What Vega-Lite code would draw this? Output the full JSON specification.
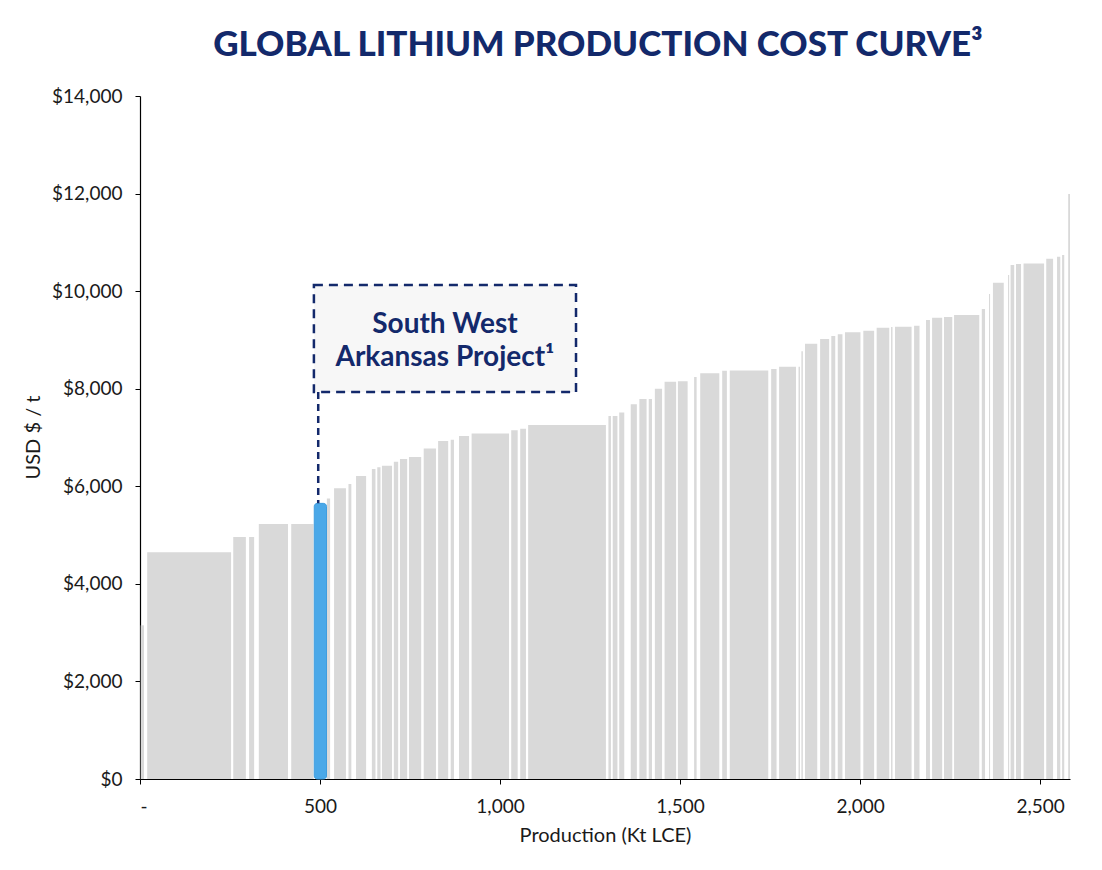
{
  "$schema": "https://vega.github.io/schema/vega-lite/v6.json",
  "autosize": {"type": "none"},
  "width": 930,
  "height": 683,
  "padding": {"left": 140, "top": 96, "right": 32, "bottom": 91},
  "background": "white",
  "title": {
    "text": "GLOBAL LITHIUM PRODUCTION COST CURVE³",
    "font": "Lato",
    "fontSize": 35,
    "fontWeight": 900,
    "color": "#13296b",
    "anchor": "middle",
    "dx": -7,
    "offset": 24
  },
  "config": {
    "view": {"stroke": null},
    "axis": {
      "grid": false,
      "domainColor": "#000000",
      "domainWidth": 1.2,
      "tickColor": "#000000",
      "tickSize": 5,
      "labelFont": "Lato",
      "labelFontSize": 19,
      "labelColor": "#1a1a1a",
      "titleFont": "Lato",
      "titleFontSize": 20,
      "titleFontWeight": "normal",
      "titleColor": "#1a1a1a"
    }
  },
  "datasets": {
    "bars": [
      {"start": 2, "end": 11, "cost": 3150, "project": "Other"},
      {"start": 20, "end": 253, "cost": 4650, "project": "Other"},
      {"start": 259, "end": 294, "cost": 4960, "project": "Other"},
      {"start": 303, "end": 317, "cost": 4960, "project": "Other"},
      {"start": 330, "end": 411, "cost": 5225, "project": "Other"},
      {"start": 420, "end": 482, "cost": 5225, "project": "Other"},
      {"start": 484, "end": 518, "cost": 5650, "project": "South West Arkansas"},
      {"start": 519, "end": 528, "cost": 5750, "project": "Other"},
      {"start": 539, "end": 572, "cost": 5960, "project": "Other"},
      {"start": 579, "end": 587, "cost": 6045, "project": "Other"},
      {"start": 600, "end": 628, "cost": 6210, "project": "Other"},
      {"start": 644, "end": 654, "cost": 6355, "project": "Other"},
      {"start": 659, "end": 668, "cost": 6390, "project": "Other"},
      {"start": 672, "end": 700, "cost": 6420, "project": "Other"},
      {"start": 705, "end": 717, "cost": 6505, "project": "Other"},
      {"start": 722, "end": 742, "cost": 6560, "project": "Other"},
      {"start": 747, "end": 781, "cost": 6600, "project": "Other"},
      {"start": 788, "end": 822, "cost": 6775, "project": "Other"},
      {"start": 828, "end": 856, "cost": 6930, "project": "Other"},
      {"start": 863, "end": 872, "cost": 6955, "project": "Other"},
      {"start": 886, "end": 914, "cost": 7030, "project": "Other"},
      {"start": 921, "end": 1025, "cost": 7080, "project": "Other"},
      {"start": 1031, "end": 1049, "cost": 7150, "project": "Other"},
      {"start": 1056, "end": 1072, "cost": 7180, "project": "Other"},
      {"start": 1078, "end": 1294, "cost": 7255, "project": "Other"},
      {"start": 1301, "end": 1308, "cost": 7440, "project": "Other"},
      {"start": 1313, "end": 1326, "cost": 7440, "project": "Other"},
      {"start": 1331, "end": 1345, "cost": 7515, "project": "Other"},
      {"start": 1363, "end": 1380, "cost": 7680, "project": "Other"},
      {"start": 1387, "end": 1407, "cost": 7790, "project": "Other"},
      {"start": 1413, "end": 1422, "cost": 7790, "project": "Other"},
      {"start": 1430, "end": 1450, "cost": 8000, "project": "Other"},
      {"start": 1457, "end": 1489, "cost": 8145, "project": "Other"},
      {"start": 1494, "end": 1521, "cost": 8155, "project": "Other"},
      {"start": 1539, "end": 1546, "cost": 8240, "project": "Other"},
      {"start": 1556, "end": 1609, "cost": 8315, "project": "Other"},
      {"start": 1617, "end": 1630, "cost": 8370, "project": "Other"},
      {"start": 1638, "end": 1745, "cost": 8375, "project": "Other"},
      {"start": 1753, "end": 1768, "cost": 8405, "project": "Other"},
      {"start": 1775, "end": 1822, "cost": 8450, "project": "Other"},
      {"start": 1829, "end": 1833, "cost": 8450, "project": "Other"},
      {"start": 1837, "end": 1841, "cost": 8770, "project": "Other"},
      {"start": 1847, "end": 1881, "cost": 8920, "project": "Other"},
      {"start": 1889, "end": 1914, "cost": 9020, "project": "Other"},
      {"start": 1920, "end": 1931, "cost": 9080, "project": "Other"},
      {"start": 1938, "end": 1951, "cost": 9115, "project": "Other"},
      {"start": 1958, "end": 2001, "cost": 9155, "project": "Other"},
      {"start": 2009, "end": 2039, "cost": 9190, "project": "Other"},
      {"start": 2046, "end": 2081, "cost": 9252, "project": "Other"},
      {"start": 2086, "end": 2090, "cost": 9265, "project": "Other"},
      {"start": 2097, "end": 2143, "cost": 9272, "project": "Other"},
      {"start": 2150, "end": 2165, "cost": 9293, "project": "Other"},
      {"start": 2183, "end": 2194, "cost": 9408, "project": "Other"},
      {"start": 2200, "end": 2228, "cost": 9456, "project": "Other"},
      {"start": 2233, "end": 2256, "cost": 9470, "project": "Other"},
      {"start": 2261, "end": 2331, "cost": 9510, "project": "Other"},
      {"start": 2338, "end": 2347, "cost": 9633, "project": "Other"},
      {"start": 2358, "end": 2361, "cost": 9940, "project": "Other"},
      {"start": 2369, "end": 2399, "cost": 10172, "project": "Other"},
      {"start": 2411, "end": 2414, "cost": 10330, "project": "Other"},
      {"start": 2418, "end": 2428, "cost": 10535, "project": "Other"},
      {"start": 2433, "end": 2447, "cost": 10555, "project": "Other"},
      {"start": 2454, "end": 2511, "cost": 10569, "project": "Other"},
      {"start": 2517, "end": 2536, "cost": 10665, "project": "Other"},
      {"start": 2547, "end": 2556, "cost": 10706, "project": "Other"},
      {"start": 2561, "end": 2567, "cost": 10740, "project": "Other"},
      {"start": 2578, "end": 2583, "cost": 11990, "project": "Other"}
    ],
    "callout": [
      {"left": 483, "right": 1211, "bottom": 7932, "top": 10125, "pointer": 495, "barTop": 5650, "labelX": 847, "labelY": 9300}
    ]
  },
  "layer": [
    {
      "data": {"name": "bars"},
      "transform": [{"filter": "datum.project === 'Other'"}],
      "mark": {"type": "rect", "color": "#d9d9d9"},
      "encoding": {
        "x": {
          "field": "start",
          "type": "quantitative",
          "scale": {"domain": [0, 2583], "nice": false, "zero": false},
          "axis": {
            "title": "Production (Kt LCE)",
            "values": [0, 500, 1000, 1500, 2000, 2500],
            "labelExpr": "datum.value === 0 ? '-' : format(datum.value, ',')",
            "labelPadding": 13,
            "titleY": 56,
            "titleBaseline": "middle"
          }
        },
        "x2": {"field": "end"},
        "y": {
          "field": "cost",
          "type": "quantitative",
          "scale": {"domain": [0, 14000], "nice": false},
          "axis": {
            "title": "USD $ / t",
            "values": [0, 2000, 4000, 6000, 8000, 10000, 12000, 14000],
            "format": "$,.0f",
            "labelPadding": 13,
            "titleAngle": -90,
            "titleX": -107,
            "titleY": 341,
            "titleAlign": "center",
            "titleBaseline": "middle"
          }
        },
        "y2": {"datum": 0}
      }
    },
    {
      "data": {"name": "bars"},
      "transform": [{"filter": "datum.project !== 'Other'"}],
      "mark": {"type": "rect", "color": "#4aa8e8", "cornerRadius": 3, "stroke": "#3f9ddf", "strokeWidth": 1},
      "encoding": {
        "x": {"field": "start", "type": "quantitative"},
        "x2": {"field": "end"},
        "y": {"field": "cost", "type": "quantitative"},
        "y2": {"datum": 0}
      }
    },
    {
      "data": {"name": "callout"},
      "mark": {"type": "rule", "color": "#13296b", "strokeWidth": 2.5, "strokeDash": [7, 5]},
      "encoding": {
        "x": {"field": "pointer", "type": "quantitative"},
        "y": {"field": "bottom", "type": "quantitative"},
        "y2": {"field": "barTop"}
      }
    },
    {
      "data": {"name": "callout"},
      "mark": {"type": "rect", "fill": "#f7f7f7", "stroke": "#13296b", "strokeWidth": 2.5, "strokeDash": [9, 6]},
      "encoding": {
        "x": {"field": "left", "type": "quantitative"},
        "x2": {"field": "right"},
        "y": {"field": "bottom", "type": "quantitative"},
        "y2": {"field": "top"}
      }
    },
    {
      "data": {"name": "callout"},
      "mark": {
        "type": "text",
        "text": ["South West", "Arkansas Project¹"],
        "font": "Lato",
        "fontSize": 28,
        "fontWeight": "bold",
        "color": "#13296b",
        "align": "center",
        "baseline": "middle",
        "lineHeight": 33
      },
      "encoding": {
        "x": {"field": "labelX", "type": "quantitative"},
        "y": {"field": "labelY", "type": "quantitative"}
      }
    }
  ]
}
